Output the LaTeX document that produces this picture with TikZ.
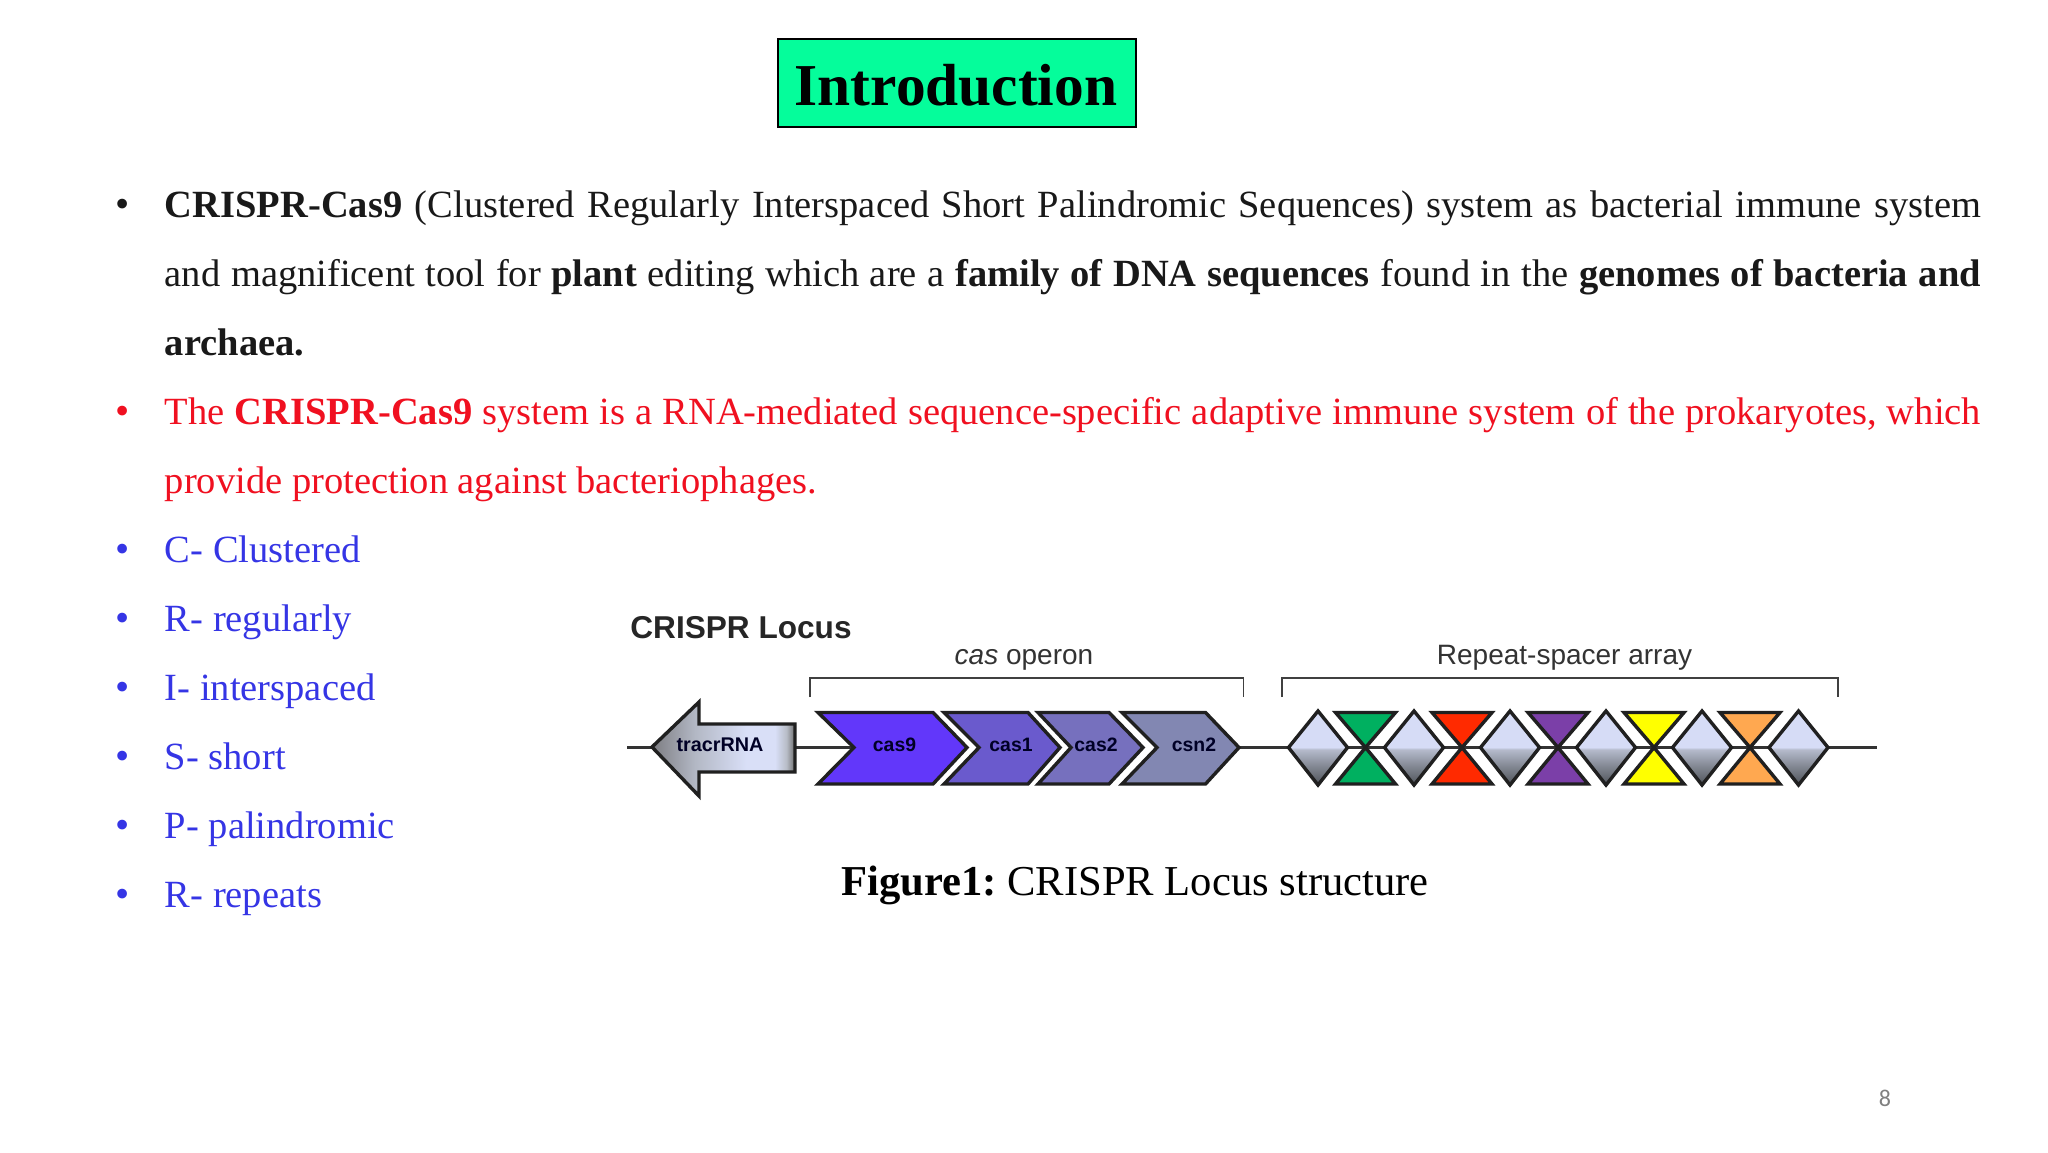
\documentclass[tikz,border=0pt]{standalone}
\usepackage{fontspec}
\setmainfont{Liberation Serif}
\newfontfamily\figfont{Liberation Sans}
\newfontfamily\numfont{Carlito}
\definecolor{bodyred}{HTML}{F01020}
\definecolor{bodyblue}{HTML}{3535E5}
\definecolor{titlegreen}{HTML}{05FD9B}
\definecolor{outline}{HTML}{202020}
\pgfdeclareverticalshading{repeatshade}{100bp}{rgb(0bp)=(0.31,0.325,0.353); rgb(25bp)=(0.31,0.325,0.353); rgb(37bp)=(0.50,0.52,0.56); rgb(49bp)=(0.71,0.73,0.80); rgb(50.5bp)=(0.84,0.863,0.965); rgb(100bp)=(0.84,0.863,0.965)}
\pgfdeclarehorizontalshading{tracrshade}{100bp}{rgb(0bp)=(0.49,0.49,0.51); rgb(25bp)=(0.49,0.49,0.51); rgb(40bp)=(0.70,0.72,0.77); rgb(58bp)=(0.85,0.875,0.97); rgb(68bp)=(0.85,0.875,0.97); rgb(72bp)=(0.72,0.74,0.78); rgb(75bp)=(0.43,0.43,0.43); rgb(100bp)=(0.43,0.43,0.43)}
\tikzset{
  x=0.5pt,y=-0.5pt,
  bodytext/.style={anchor=base west,inner sep=0pt,font=\fontsize{19.25pt}{24pt}\selectfont\frenchspacing},
  bullettext/.style={anchor=base,inner sep=0pt,font=\fontsize{20.3pt}{24pt}\selectfont},
  figlabel/.style={inner sep=0pt,anchor=base,font=\figfont\fontsize{14pt}{16pt}\selectfont,text=black!80},
  genelabel/.style={inner sep=0pt,anchor=base,font=\figfont\bfseries\fontsize{9.7pt}{11pt}\selectfont,text=black!85!blue},
  genebox/.style={draw=outline,line width=1.7pt,line join=miter},
  backbone/.style={draw=black!80,line width=1.8pt},
  bracketline/.style={draw=black!75,line width=0.8pt},
}
\begin{document}
\begin{tikzpicture}
\useasboundingbox (0,0) rectangle (2048,1152);
\fill[white] (0,0) rectangle (2048,1152);
% title
\node[draw=black,line width=0.7pt,fill=titlegreen,minimum width=179pt,minimum height=44pt,inner sep=0pt] (title) at (957,83) {};
\node[anchor=base,inner sep=0pt,font=\bfseries\fontsize{29.7pt}{32pt}\selectfont] (titletext) at (956,105) {Introduction};
% body lines
\node[bullettext,text=black!90] (b1) at (123,217.7) {•};
\node[bodytext,text=black!90] (l1) at (164.5,217.7) {\hbox to 908pt{\textbf{CRISPR-Cas9} (Clustered Regularly Interspaced Short Palindromic Sequences) system as bacterial immune system}};
\node[bodytext,text=black!90] (l2) at (164.5,286.7) {\hbox to 908pt{and magnificent tool for \textbf{plant} editing which are a \textbf{family of DNA sequences} found in the \textbf{genomes of bacteria and}}};
\node[bodytext,text=black!90] (l3) at (164.5,355.7) {\textbf{archaea.}};
\node[bullettext,text=bodyred] (b2) at (123,424.7) {•};
\node[bodytext,text=bodyred] (l4) at (164.5,424.7) {\hbox to 908pt{The \textbf{CRISPR-Cas9} system is a RNA-mediated sequence-specific adaptive immune system of the prokaryotes, which}};
\node[bodytext,text=bodyred] (l5) at (164.5,493.7) {provide protection against bacteriophages.};
\node[bullettext,text=bodyblue] (b3) at (123,562.7) {•};
\node[bodytext,text=bodyblue] (l6) at (164.5,562.7) {C- Clustered};
\node[bullettext,text=bodyblue] (b4) at (123,631.7) {•};
\node[bodytext,text=bodyblue] (l7) at (164.5,631.7) {R- regularly};
\node[bullettext,text=bodyblue] (b5) at (123,700.7) {•};
\node[bodytext,text=bodyblue] (l8) at (164.5,700.7) {I- interspaced};
\node[bullettext,text=bodyblue] (b6) at (123,769.7) {•};
\node[bodytext,text=bodyblue] (l9) at (164.5,769.7) {S- short};
\node[bullettext,text=bodyblue] (b7) at (123,838.7) {•};
\node[bodytext,text=bodyblue] (l10) at (164.5,838.7) {P- palindromic};
\node[bullettext,text=bodyblue] (b8) at (123,907.7) {•};
\node[bodytext,text=bodyblue] (l11) at (164.5,907.7) {R- repeats};
% caption and number
\node[bodytext,font=\fontsize{21.3pt}{24pt}\selectfont\frenchspacing] (caption) at (841,895) {\textbf{Figure1:} CRISPR Locus structure};
\node[inner sep=0pt,anchor=base,font=\numfont\fontsize{12pt}{14pt}\selectfont,text=black!50] (pagenum) at (1885,1106) {8};
% locus labels
\node[inner sep=0pt,anchor=base west,font=\figfont\bfseries\fontsize{15.8pt}{18pt}\selectfont,text=black!85] (locus) at (630,638) {CRISPR Locus};
\node[figlabel] (casop) at (1024,664) {\textit{cas} operon};
\node[figlabel] (rsa) at (1564.5,664) {Repeat-spacer array};
% brackets
\coordinate (br1a) at (810,697); \coordinate (br1b) at (1243.5,697);
\coordinate (br2a) at (1282,697); \coordinate (br2b) at (1838,697);
\draw[bracketline] (br1a) |- (1243.5,678) -- (br1b);
\draw[bracketline] (br2a) |- (1838,678) -- (br2b);
% backbone
\coordinate (bbL) at (627,747.5); \coordinate (tracrtip) at (652,747.5);
\coordinate (tracrend) at (795,747.5); \coordinate (cas9notch) at (854,747.5);
\coordinate (csn2tip) at (1239,747.5); \coordinate (bbR) at (1877,747.5);
\draw[backbone] (bbL) -- (tracrtip);
\draw[backbone] (tracrend) -- (cas9notch);
\draw[backbone] (csn2tip) -- (bbR);
% tracrRNA
\path[genebox,shading=tracrshade] (652,747) -- (699,702) -- (699,724) -- (795,724) -- (795,772) -- (699,772) -- (699,796) -- cycle;
\node[genelabel,font=\figfont\bfseries\fontsize{9.9pt}{11pt}\selectfont] (tracr) at (720,751) {tracrRNA};
% cas genes
\path[genebox,fill={rgb,255:red,98;green,55;blue,250}] (818,712.5) -- (933,712.5) -- (967,747.5) -- (933,784) -- (818,784) -- (854,747.5) -- cycle;
\path[genebox,fill={rgb,255:red,106;green,90;blue,205}] (944,712.5) -- (1028,712.5) -- (1060,747.5) -- (1028,784) -- (944,784) -- (979,747.5) -- cycle;
\path[genebox,fill={rgb,255:red,118;green,112;blue,190}] (1038,712.5) -- (1109,712.5) -- (1143,747.5) -- (1109,784) -- (1038,784) -- (1071,747.5) -- cycle;
\path[genebox,fill={rgb,255:red,130;green,135;blue,178}] (1122,712.5) -- (1205.5,712.5) -- (1239,747.5) -- (1205.5,784) -- (1122,784) -- (1157,747.5) -- cycle;
\node[genelabel] (cas9) at (894.5,751) {cas9};
\node[genelabel] (cas1) at (1011,751) {cas1};
\node[genelabel] (cas2) at (1096,751) {cas2};
\node[genelabel] (csn2) at (1194,751) {csn2};
% repeats
\foreach \cx in {1318,1414,1510,1606,1702,1798.5}
  \path[genebox,shading=repeatshade] (\cx-29.5,747.5) -- (\cx,711) -- (\cx+29.5,747.5) -- (\cx,785) -- cycle;
% spacers
\foreach \cx/\col in {1365.5/{rgb,255:red,0;green,176;blue,96},1462/{rgb,255:red,255;green,42;blue,0},1558/{rgb,255:red,123;green,63;blue,168},1654/{rgb,255:red,255;green,255;blue,0},1750/{rgb,255:red,255;green,168;blue,80}}{
  \path[genebox,fill=\col] (\cx-30,712.5) -- (\cx+30,712.5) -- (\cx,747.5) -- cycle;
  \path[genebox,fill=\col] (\cx-30,784) -- (\cx+30,784) -- (\cx,747.5) -- cycle;
}
\end{tikzpicture}
\end{document}
